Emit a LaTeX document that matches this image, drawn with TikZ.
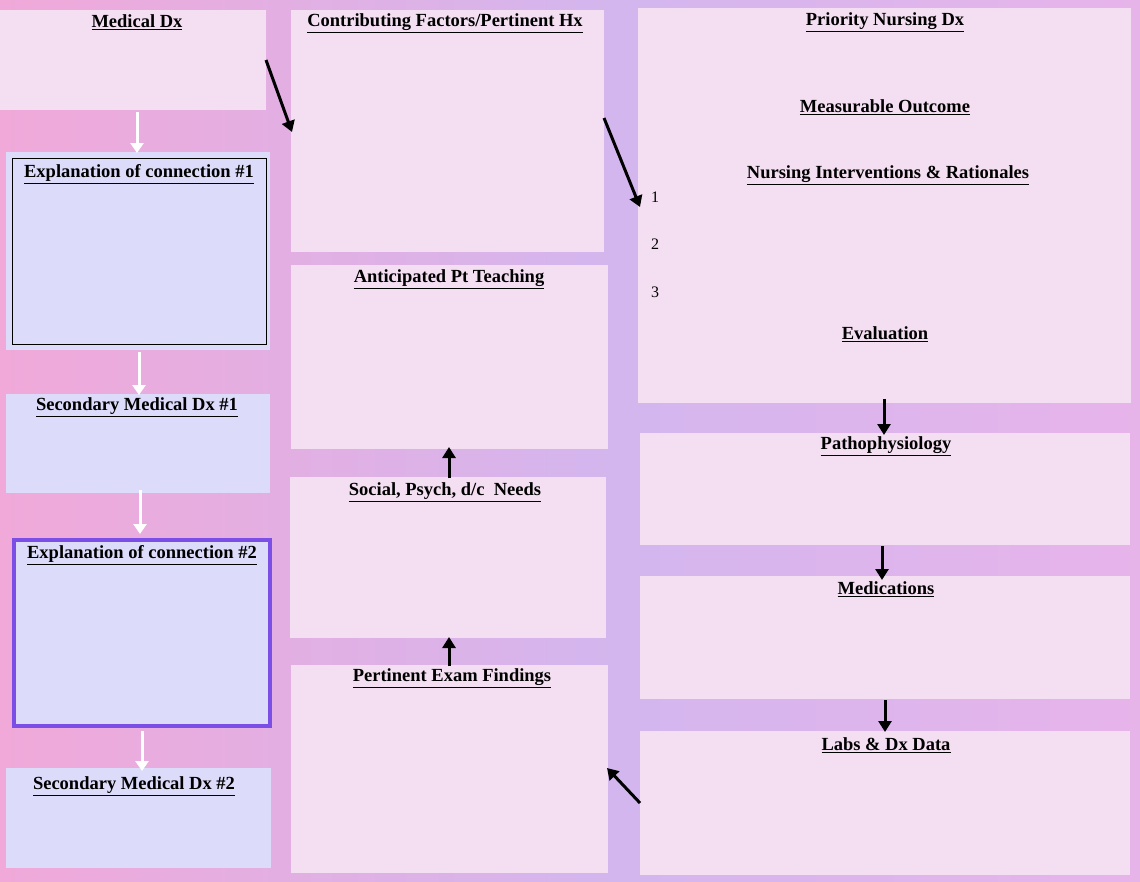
\documentclass[tikz,border=0pt]{standalone}
\usepackage{fontspec}
\setmainfont{Liberation Serif}
\usetikzlibrary{arrows.meta}
\definecolor{pinkbox}{HTML}{F4DFF2}
\definecolor{lavbox}{HTML}{DCDBF9}
\definecolor{purp}{HTML}{7B4FE6}
\definecolor{bgA}{HTML}{F0A9D9}
\definecolor{bgB}{HTML}{D3B6EE}
\definecolor{bgC}{HTML}{E7B4EA}
\begin{document}
\begin{tikzpicture}[x=1pt,y=-1pt,
  pbox/.style={fill=pinkbox,draw=none,anchor=north west,inner sep=0},
  lbox/.style={fill=lavbox,draw=none,anchor=north west,inner sep=0},
  ttl/.style={font=\fontsize{18.5}{20}\selectfont\bfseries,inner sep=0},
  num/.style={font=\fontsize{16}{18}\selectfont,inner sep=0},
  warr/.style={white,line width=3pt,-{Triangle[length=10pt,width=13pt]}},
  barr/.style={black,line width=3pt,-{Triangle[length=11pt,width=13pt]}}]
\useasboundingbox (0,0) rectangle (1140,881);
\shade[left color=bgA,right color=bgB] (0,0) rectangle (620,881);
\shade[left color=bgB,right color=bgC] (620,0) rectangle (1140,881);
% boxes
\node[pbox,minimum width=266pt,minimum height=100pt] (md) at (0,10) {};
\node[pbox,minimum width=313pt,minimum height=242pt] (cf) at (291,10) {};
\node[pbox,minimum width=493pt,minimum height=395pt] (pn) at (638,8) {};
\node[lbox,minimum width=264pt,minimum height=198pt] (e1) at (6,152) {};
\draw[black,line width=1pt] (12,158) rectangle (266,344);
\node[lbox,minimum width=264pt,minimum height=99pt] (s1) at (6,394) {};
\node[lbox,minimum width=256pt,minimum height=186pt,draw=purp,line width=3.5pt] (e2) at (12,538) {};
\node[lbox,minimum width=265pt,minimum height=100pt] (s2) at (6,768) {};
\node[pbox,minimum width=317pt,minimum height=184pt] (ap) at (291,265) {};
\node[pbox,minimum width=316pt,minimum height=161pt] (sp) at (290,477) {};
\node[pbox,minimum width=317pt,minimum height=208pt] (pe) at (291,665) {};
\node[pbox,minimum width=490pt,minimum height=112pt] (pa) at (640,433) {};
\node[pbox,minimum width=490pt,minimum height=123pt] (me) at (640,576) {};
\node[pbox,minimum width=490pt,minimum height=144pt] (lb) at (640,731) {};
% titles
\node[ttl] (t1) at (137,22) {\underline{Medical Dx}};
\node[ttl] (t2) at (445,23) {\underline{Contributing Factors/Pertinent Hx}};
\node[ttl] (t3) at (885,22) {\underline{Priority Nursing Dx}};
\node[ttl] (t4) at (885,107) {\underline{Measurable Outcome}};
\node[ttl] (t5) at (888,175) {\underline{Nursing Interventions \& Rationales}};
\node[ttl] (t6) at (885,334) {\underline{Evaluation}};
\node[ttl] (t7) at (139,174) {\underline{Explanation of connection \#1}};
\node[ttl] (t8) at (137,407) {\underline{Secondary Medical Dx \#1}};
\node[ttl] (t9) at (142,555) {\underline{Explanation of connection \#2}};
\node[ttl] (t10) at (134,786) {\underline{Secondary Medical Dx \#2}};
\node[ttl] (t11) at (449,279) {\underline{Anticipated Pt Teaching}};
\node[ttl] (t12) at (445,492) {\underline{Social, Psych, d/c\ \ Needs}};
\node[ttl] (t13) at (452,678) {\underline{Pertinent Exam Findings}};
\node[ttl] (t14) at (886,446) {\underline{Pathophysiology}};
\node[ttl] (t15) at (886,589) {\underline{Medications}};
\node[ttl] (t16) at (886,745) {\underline{Labs \& Dx Data}};
\node[num] (n1) at (655,197) {1};
\node[num] (n2) at (655,244) {2};
\node[num] (n3) at (655,292) {3};
% arrows
\coordinate (a1) at (137,112); \coordinate (b1) at (137,153);
\coordinate (a2) at (139,352); \coordinate (b2) at (139,395);
\coordinate (a3) at (140,490); \coordinate (b3) at (140,534);
\coordinate (a4) at (142,731); \coordinate (b4) at (142,771);
\draw[warr] (a1) -- (b1);
\draw[warr] (a2) -- (b2);
\draw[warr] (a3) -- (b3);
\draw[warr] (a4) -- (b4);
\coordinate (c1) at (266,60); \coordinate (d1) at (292,132);
\coordinate (c2) at (604,118); \coordinate (d2) at (640,207);
\coordinate (c3) at (884,399); \coordinate (d3) at (884,435);
\coordinate (c4) at (882,546); \coordinate (d4) at (882,580);
\coordinate (c5) at (885,700); \coordinate (d5) at (885,732);
\coordinate (c6) at (640,803); \coordinate (d6) at (607,768);
\coordinate (c7) at (449,478); \coordinate (d7) at (449,447);
\coordinate (c8) at (449,666); \coordinate (d8) at (449,637);
\foreach \i in {1,...,8} {\draw[barr] (c\i) -- (d\i);}
\end{tikzpicture}
\end{document}
